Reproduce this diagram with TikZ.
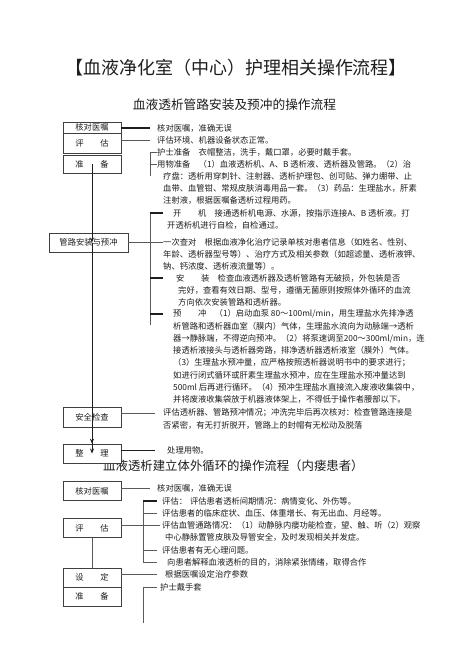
\documentclass[tikz,border=0pt]{standalone}
\usepackage{fontspec}
\usepackage{tikz}
\usetikzlibrary{arrows.meta,positioning,calc}
\newfontfamily\cjk{Noto Sans CJK SC}
\definecolor{InkDark}{HTML}{1E1E1E}
\definecolor{LineGray}{HTML}{5A5A5A}
\tikzset{
  stepbox/.style={draw=InkDark!85,line width=0.7pt,minimum width=58pt,minimum height=19pt,inner sep=0pt,fill=white,font=\cjk\fontsize{8.3}{10}\selectfont,text=InkDark},
  linetext/.style={anchor=west,inner sep=0pt,font=\cjk\fontsize{8.3}{10}\selectfont,text=InkDark},
  flowarrow/.style={-{Stealth[length=5pt,width=4pt]},line width=0.8pt,draw=InkDark},
  structlink/.style={line width=0.6pt,draw=LineGray},
  ticklink/.style={line width=1.1pt,draw=InkDark}
}

\begin{document}
\begin{tikzpicture}[x=1pt,y=-1pt]
\fill[white] (0,0) rectangle (474,670);
\useasboundingbox (0,0) rectangle (474,670);
% titles
\node[font=\cjk\fontsize{18}{20}\selectfont,text=InkDark] (title) at (236,68) {【血液净化室（中心）护理相关操作流程】};
\node[font=\cjk\fontsize{12.7}{14}\selectfont,text=InkDark] (sub1) at (234.5,105) {血液透析管路安装及预冲的操作流程};
\node[anchor=west,inner sep=0pt,font=\cjk\fontsize{12.4}{14}\selectfont,text=InkDark] (sub2) at (103,466) {血液透析建立体外循环的操作流程（内瘘患者）};

% upper flow boxes
\node[stepbox,minimum height=11pt] (hedui) at (92,127.5) {核对医嘱};
\node[stepbox,minimum height=20pt] (pinggu) at (92,143) {评　　估};
\node[stepbox,minimum height=18pt] (zhunbei) at (92,164) {准　　备};
\node[stepbox,minimum width=79pt] (guanlu) at (88.5,242.5) {管路安装与预冲};
\node[stepbox,minimum height=20pt] (anquan) at (92,417) {安全检查};
\node[stepbox] (zhengli) at (92,453.5) {整　　理};

% upper texts
\node[linetext] (hd) at (157,128) {核对医嘱，准确无误};
\node[linetext] (pg) at (157,140) {评估环境、机器设备状态正常。};
\node[linetext] (hs) at (157,152) {护士准备　衣帽整洁，洗手，戴口罩，必要时戴手套。};
\node[linetext] (yw) at (157,164) {用物准备　（1）血液透析机、A、B 透析液、透析器及管路。（2）治};
\foreach \row [count=\i] in {疗盘：透析用穿刺针、注射器、透析护理包、创可贴、弹力绷带、止,
  血带、血管钳、常规皮肤消毒用品一套。（3）药品：生理盐水，肝素,
  注射液，根据医嘱备透析过程用药。}
  \node[linetext] (yw\i) at (163,{164+12*\i}) {\row};
\node[linetext] (kj) at (173,213) {开　　机　接通透析机电源、水源，按指示连接A、B 透析液。打};
\node[linetext] (kj2) at (167,225) {开透析机进行自检，自检通过。};
\node[linetext] (cd) at (163,242) {一次查对　根据血液净化治疗记录单核对患者信息（如姓名、性别、};
\foreach \row [count=\i] in {年龄、透析器型号等）、治疗方式及相关参数（如超滤量、透析液钾、,
  钠、钙浓度、透析液流量等）。}
  \node[linetext] (cd\i) at (163,{242+12*\i}) {\row};
\node[linetext] (az) at (176,278) {安　　装　检查血液透析器及透析管路有无破损，外包装是否};
\foreach \row [count=\i] in {完好，查看有效日期、型号，遵循无菌原则按照体外循环的血流,
  方向依次安装管路和透析器。}
  \node[linetext] (az\i) at (178,{278+12*\i}) {\row};
\node[linetext] (yc) at (173,314) {预　　冲　（1）启动血泵 80～100ml/min，用生理盐水先排净透};
\foreach \row [count=\i] in {析管路和透析器血室（膜内）气体，生理盐水流向为动脉端→透析,
  器→静脉端，不得逆向预冲。（2）将泵速调至200～300ml/min，连,
  接透析液接头与透析器旁路，排净透析器透析液室（膜外）气体。,
  （3）生理盐水预冲量，应严格按照透析器说明书中的要求进行；,
  如进行闭式循环或肝素生理盐水预冲，应在生理盐水预冲量达到,
  500ml 后再进行循环。（4）预冲生理盐水直接流入废液收集袋中，,
  并将废液收集袋放于机器液体架上，不得低于操作者腰部以下。}
  \node[linetext] (yc\i) at (173,{314+12.2*\i}) {\row};
\node[linetext] (jc) at (163,413) {评估透析器、管路预冲情况；冲洗完毕后再次核对：检查管路连接是};
\node[linetext] (jc2) at (163,425) {否紧密，有无打折脱开，管路上的封帽有无松动及脱落};
\node[linetext] (cl) at (167,450.5) {处理用物。};

% upper links
\coordinate (brAtop) at (150,152);
\coordinate (brAbot) at (150,176);
\coordinate (brBtop) at (150,213);
\coordinate (brBbot) at (150,325);
\draw[ticklink,shorten >=7pt] (hd.west -| hedui.east) -- (hd.west);
\draw[structlink,shorten >=7pt] (pg.west -| pinggu.east) -- (pg.west);
\draw[structlink] (brAtop) -- (brAbot);
\draw[structlink] (hs.west -| brAtop) -- (hs.west);
\draw[structlink] (yw.west -| brAtop) -- (yw.west);
\draw[structlink] (brBtop) -- (brBbot);
\draw[ticklink,shorten >=10pt] (kj.west -| brBtop) -- (kj.west);
\draw[structlink] (cd.west -| guanlu.east) -- (cd.west);
\draw[ticklink,shorten >=13pt] (az.west -| brBtop) -- (az.west);
\draw[ticklink,shorten >=10pt] (yc.west -| brBtop) -- (yc.west);
\draw[structlink,shorten >=8pt] (jc.west -| anquan.east) -- (jc.west);
\draw[ticklink,shorten >=12pt] (cl.west -| zhengli.east) -- (cl.west);

% upper arrows
\draw[flowarrow] (zhunbei.center) -- (zhunbei |- guanlu.center);
\draw[flowarrow] (zhunbei |- guanlu.center) -- (zhengli.north);
\draw[flowarrow] (anquan.center) -- (zhengli.center);

% lower flow boxes
\node[stepbox] (hedui2) at (92,491) {核对医嘱};
\node[stepbox] (pinggu2) at (92,528) {评　　估};
\node[stepbox] (sheding) at (92,577.5) {设　　定};
\node[stepbox] (zhunbei2) at (92,596.5) {准　　备};

% lower texts
\node[linetext] (hd2) at (157,488) {核对医嘱，准确无误};
\node[linetext] (pe) at (162,501) {评估：\hspace{3pt}评估患者透析间期情况：病情变化、外伤等。};
\node[linetext] (pe2) at (162,513) {评估患者的临床症状、血压、体重增长、有无出血、月经等。};
\node[linetext] (pe3) at (162,525) {评估血管通路情况：（1）动静脉内瘘功能检查，望、触、听（2）观察};
\node[linetext] (pe4) at (165,537) {中心静脉置管皮肤及导管安全，及时发现相关并发症。};
\node[linetext] (pe5) at (162,550) {评估患者有无心理问题。};
\node[linetext] (pe6) at (167,562) {向患者解释血液透析的目的，消除紧张情绪，取得合作};
\node[linetext] (sd) at (165,574.5) {根据医嘱设定治疗参数};
\node[linetext] (hs2) at (160,587) {护士戴手套};

% lower links
\coordinate (brCtop) at (143,501);
\coordinate (brCbot) at (143,562);
\coordinate (brDtop) at (143,587);
\coordinate (brDbot) at (143,623);
\draw[structlink,shorten >=7pt] (hd2.west -| hedui2.east) -- (hd2.west);
\draw[structlink] (brCtop) -- (brCbot);
\draw[ticklink,shorten >=5pt] (pe.west -| brCtop) -- (pe.west);
\draw[structlink,line width=0.9pt,shorten >=5pt] (pe2.west -| brCtop) -- (pe2.west);
\draw[structlink,shorten >=2pt] (pe3.west -| pinggu2.east) -- (pe3.west);
\draw[structlink,line width=0.9pt,shorten >=5pt] (pe5.west -| brCtop) -- (pe5.west);
\draw[structlink,line width=0.9pt,shorten >=10pt] (pe6.west -| brCtop) -- (pe6.west);
\draw[structlink] (pinggu2.south) -- (sheding.north);
\draw[structlink,shorten >=8pt] (sd.west -| sheding.east) -- (sd.west);
\draw[structlink] (brDtop) -- (brDbot);
\draw[structlink,shorten >=3pt] (hs2.west -| brDtop) -- (hs2.west);
\end{tikzpicture}
\end{document}
